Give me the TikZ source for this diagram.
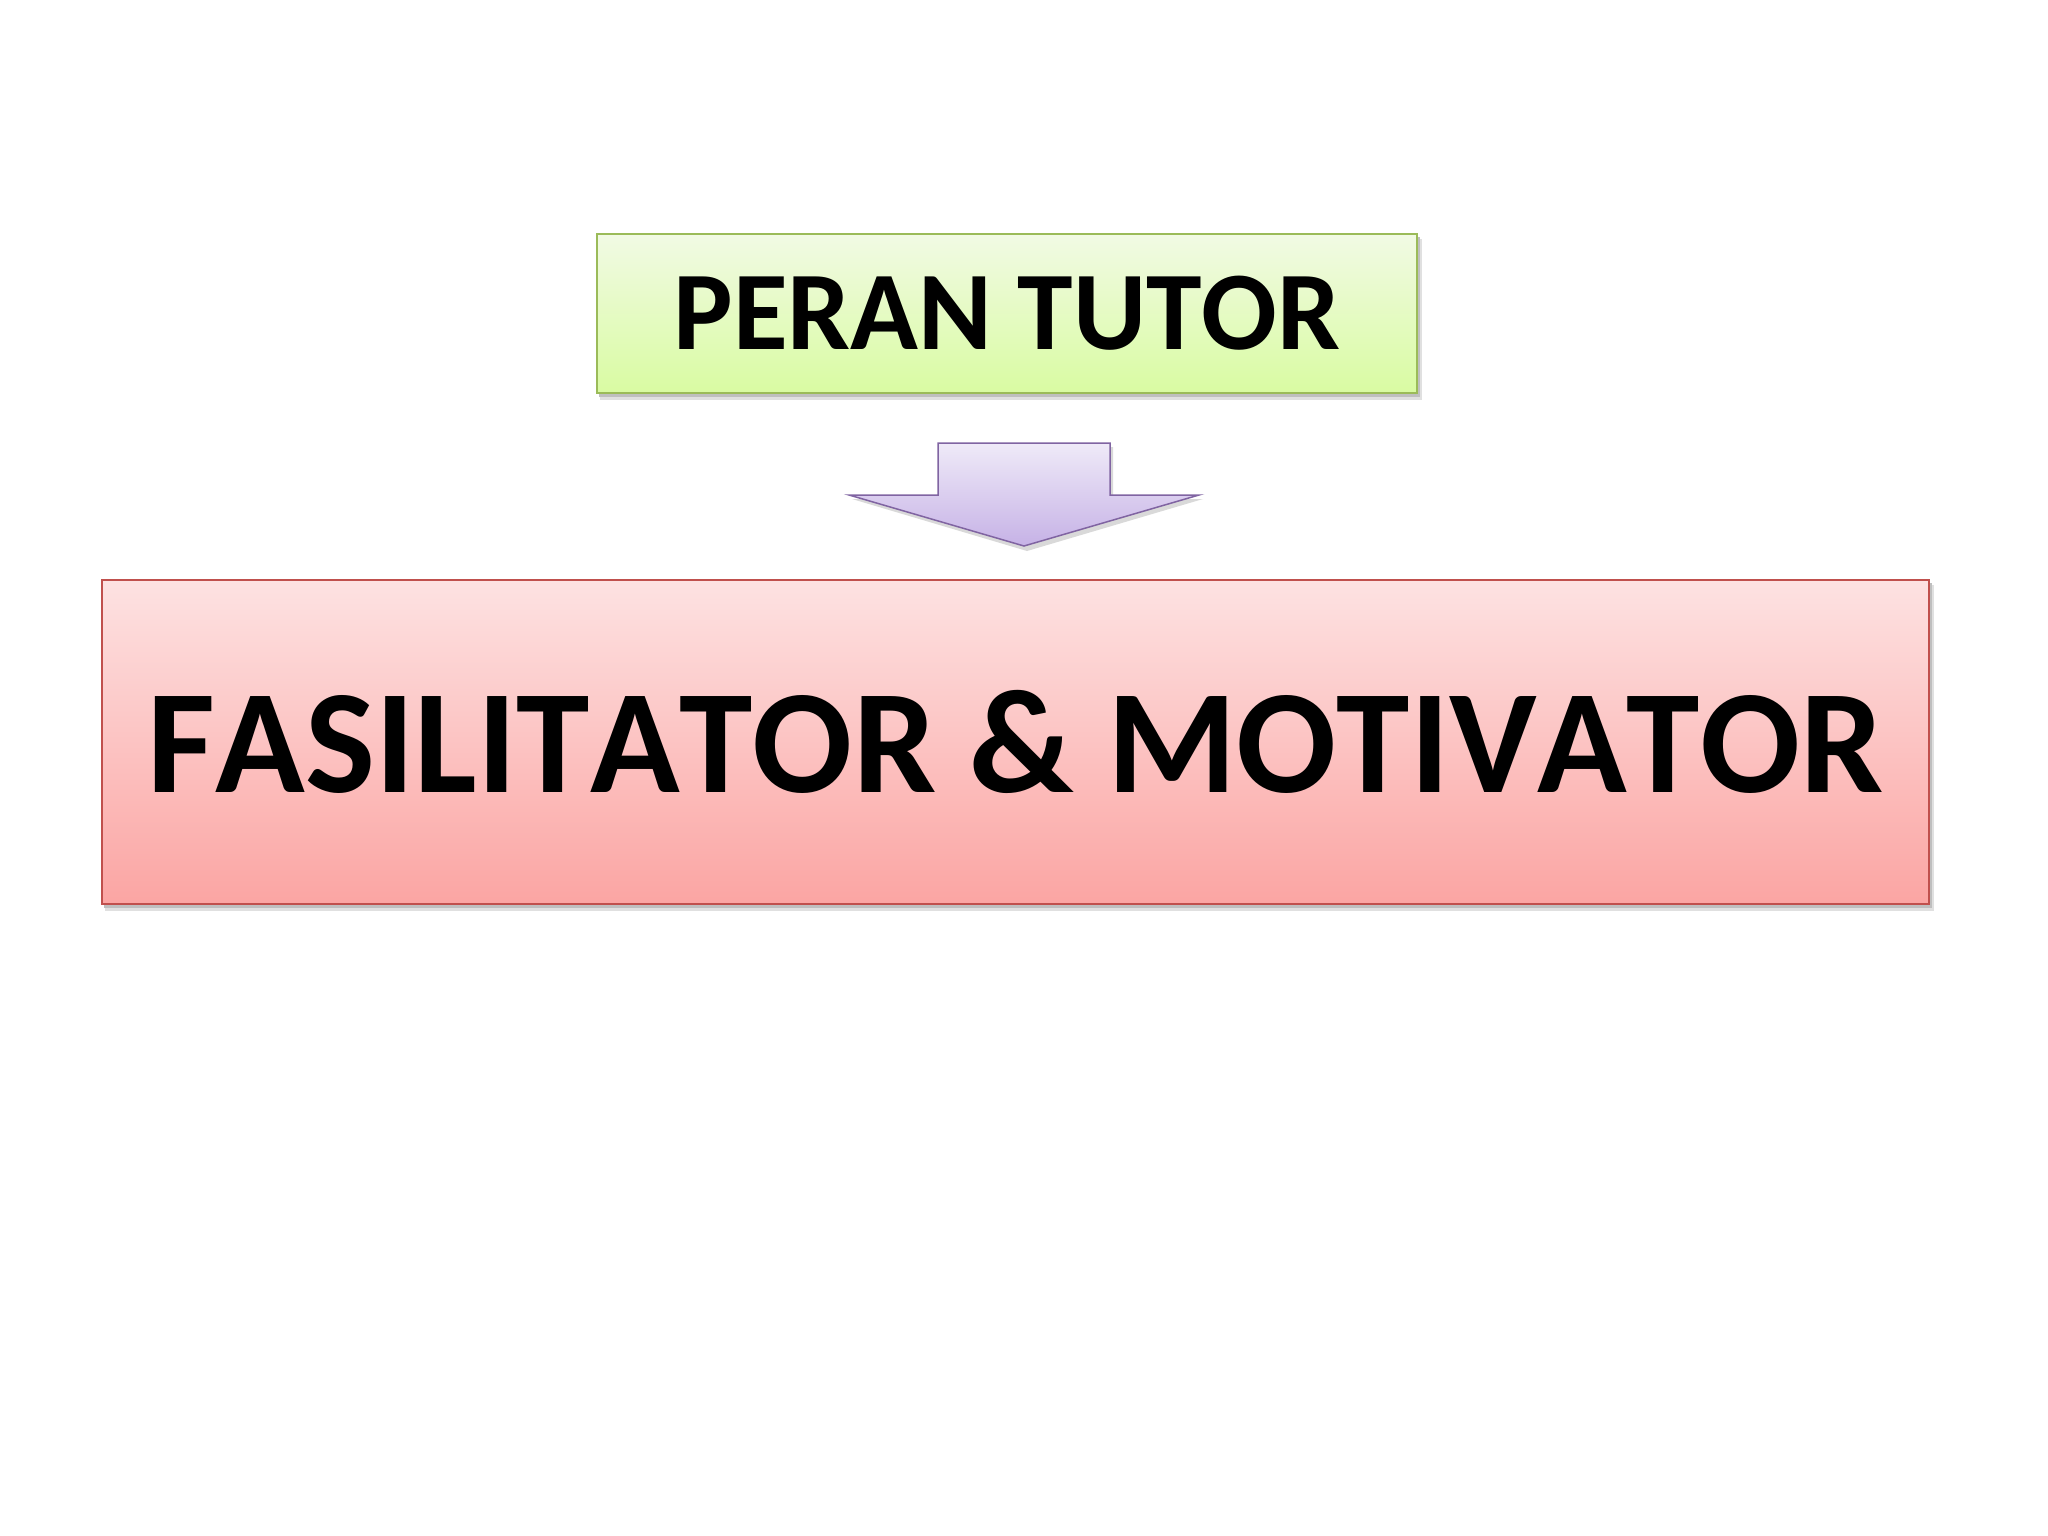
\documentclass[tikz,border=0pt]{standalone}
\usepackage{fontspec}
\setmainfont[Kerning=Off]{Carlito}
\definecolor{gtop}{HTML}{F1FAE4}
\definecolor{gbot}{HTML}{D9FBA2}
\definecolor{gline}{HTML}{9BBB59}
\definecolor{rtop}{HTML}{FDE2E2}
\definecolor{rbot}{HTML}{FBA5A3}
\definecolor{rline}{HTML}{C0504D}
\definecolor{ptop}{HTML}{EFEAF8}
\definecolor{pbot}{HTML}{C6B2E6}
\definecolor{pline}{HTML}{8064A2}
\tikzset{
  box/.style={rectangle, inner sep=0pt, line width=1.5pt, font=\bfseries, text=black},
}
\begin{document}
\begin{tikzpicture}[x=1pt,y=-1pt]
\useasboundingbox (0,0) rectangle (2048,1536);
\fill[white] (0,0) rectangle (2048,1536);
% shadows
\fill[black!12] (600,239) rectangle (1422,400);
\fill[black!25] (599,237) rectangle (1420,397);
\fill[black!12] (105,585) rectangle (1934,911);
\fill[black!25] (104,583) rectangle (1932,908);
% top box
\shade[top color=gtop, bottom color=gbot] (597,234) rectangle (1417,393);
\node[box, draw=gline, minimum width=820pt, minimum height=159pt, font=\fontsize{112}{112}\selectfont\bfseries] (peran) at (1007,313.5) {PERAN TUTOR};
% bottom box
\shade[top color=rtop, bottom color=rbot] (102,580) rectangle (1929,904);
\node[box, draw=rline, minimum width=1827pt, minimum height=324pt, font=\fontsize{148}{148}\selectfont\bfseries] (fasil) at (1015.5,742) {FASILITATOR \& MOTIVATOR};
% arrow
\fill[black!15] (941,447) -- (1113,447) -- (1113,499) -- (1203,499) -- (1027,551) -- (852,499) -- (941,499) -- cycle;
\shade[top color=ptop, bottom color=pbot, draw=pline, line width=1.5pt, line join=miter]
  (938,443) -- (1110,443) -- (1110,495) -- (1199,495) -- (1024,546) -- (849,495) -- (938,495) -- cycle;
\end{tikzpicture}
\end{document}
